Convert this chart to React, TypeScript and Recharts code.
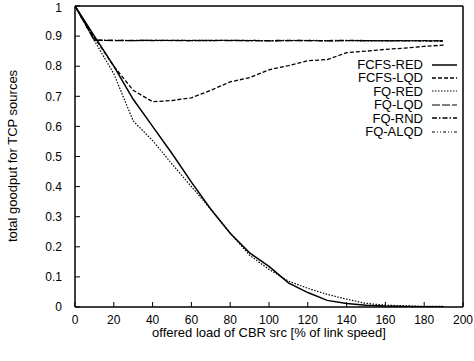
import { LineChart, Line, XAxis, YAxis, Legend } from 'recharts';

const loads = [0, 10, 20, 30, 40, 50, 60, 70, 80, 90, 100, 110, 120, 130, 140, 150, 160, 170, 180, 190];

const fcfsRed = [1, 0.9, 0.8, 0.69, 0.6, 0.51, 0.415, 0.325, 0.245, 0.18, 0.135, 0.08, 0.048, 0.022, 0.012, 0.006, 0.003, 0.002, 0.001, 0.001];
const fcfsLqd = [1, 0.895, 0.8, 0.72, 0.682, 0.686, 0.695, 0.72, 0.748, 0.762, 0.788, 0.802, 0.818, 0.822, 0.845, 0.85, 0.856, 0.86, 0.866, 0.87];
const fqRed = [1, 0.885, 0.775, 0.618, 0.553, 0.475, 0.4, 0.325, 0.245, 0.172, 0.125, 0.086, 0.062, 0.042, 0.026, 0.012, 0.006, 0.004, 0.002, 0.002];
const fqLqd = [1, 0.886, 0.885, 0.885, 0.886, 0.885, 0.885, 0.886, 0.885, 0.885, 0.884, 0.885, 0.885, 0.884, 0.885, 0.885, 0.884, 0.885, 0.884, 0.884];
const fqRnd = [1, 0.887, 0.886, 0.886, 0.885, 0.886, 0.886, 0.885, 0.886, 0.885, 0.885, 0.886, 0.885, 0.885, 0.886, 0.885, 0.885, 0.884, 0.885, 0.885];
const fqAlqd = [1, 0.886, 0.886, 0.885, 0.886, 0.886, 0.885, 0.885, 0.886, 0.886, 0.885, 0.885, 0.886, 0.885, 0.885, 0.884, 0.885, 0.885, 0.884, 0.883];

const xTicks = [0, 20, 40, 60, 80, 100, 120, 140, 160, 180, 200];
const yTicks = [0, 0.1, 0.2, 0.3, 0.4, 0.5, 0.6, 0.7, 0.8, 0.9, 1];

const series = [
  { key: 'fcfsRed', name: 'FCFS-RED', values: fcfsRed, dash: undefined, width: 1.5 },
  { key: 'fcfsLqd', name: 'FCFS-LQD', values: fcfsLqd, dash: '4 2', width: 1.3 },
  { key: 'fqRed', name: 'FQ-RED', values: fqRed, dash: '1.5 1.5', width: 1.2 },
  { key: 'fqLqd', name: 'FQ-LQD', values: fqLqd, dash: '8 2', width: 1.2 },
  { key: 'fqRnd', name: 'FQ-RND', values: fqRnd, dash: '5 2 1.5 2', width: 1.3 },
  { key: 'fqAlqd', name: 'FQ-ALQD', values: fqAlqd, dash: '3 2 1 2 1 2', width: 1.2 },
];

const data = loads.map((x, i) => {
  const row: Record<string, number> = { x };
  series.forEach(s => { row[s.key] = s.values[i]; });
  return row;
});

const font = 'Liberation Sans, Arial, sans-serif';
const tickStyle = { fontSize: 12, fontFamily: font, fill: '#000' };
const frame = { stroke: '#000', strokeWidth: 1.5 };

const LegendBox = () => (
  <div style={{ fontFamily: font, fontSize: 13, color: '#000' }}>
    {series.map(s => (
      <div key={s.key} style={{ display: 'flex', alignItems: 'center', justifyContent: 'flex-end', height: 13.4 }}>
        <span style={{ lineHeight: '13.4px' }}>{s.name}</span>
        <svg width={25} height={6} style={{ marginLeft: 9 }}>
          <line x1={0} y1={3} x2={25} y2={3} stroke="#000" strokeWidth={s.width} strokeDasharray={s.dash} />
        </svg>
      </div>
    ))}
  </div>
);

export default function App() {
  return (
    <div style={{ position: 'absolute', left: 0, top: 0, background: '#fff' }}>
      <LineChart width={474} height={361} data={data} margin={{ top: 5, right: 10, left: 0, bottom: 0 }}>
        <XAxis
          dataKey="x"
          type="number"
          domain={[0, 200]}
          ticks={xTicks}
          allowDataOverflow
          height={54}
          tick={tickStyle}
          tickSize={-5}
          tickMargin={13}
          axisLine={frame}
          tickLine={{ stroke: '#000' }}
          label={() => (
            <text x={269} y={337} textAnchor="middle" fontFamily={font} fontSize={13} fill="#000">
              offered load of CBR src [% of link speed]
            </text>
          )}
        />
        <XAxis
          xAxisId="top"
          orientation="top"
          type="number"
          domain={[0, 200]}
          ticks={xTicks}
          allowDataOverflow
          height={1}
          tick={false}
          tickSize={-5}
          axisLine={frame}
          tickLine={{ stroke: '#000' }}
        />
        <YAxis
          type="number"
          domain={[0, 1]}
          ticks={yTicks}
          allowDataOverflow
          width={75}
          tick={tickStyle}
          tickSize={-5}
          tickMargin={18}
          axisLine={frame}
          tickLine={{ stroke: '#000' }}
          label={() => (
            <text x={12} y={156} transform="rotate(-90 12 156)" textAnchor="middle" dominantBaseline="central" fontFamily={font} fontSize={13} fill="#000">
              total goodput for TCP sources
            </text>
          )}
        />
        <YAxis
          yAxisId="right"
          orientation="right"
          type="number"
          domain={[0, 1]}
          ticks={yTicks}
          allowDataOverflow
          width={1}
          tick={false}
          tickSize={-5}
          axisLine={frame}
          tickLine={{ stroke: '#000' }}
        />
        <Legend
          layout="horizontal"
          verticalAlign="middle"
          content={<LegendBox />}
          wrapperStyle={{ top: 58, right: 17, left: 'auto', width: 'auto' }}
        />
        {series.map(s => (
          <Line
            key={s.key}
            dataKey={s.key}
            name={s.name}
            type="linear"
            stroke="#000"
            strokeWidth={s.width}
            strokeDasharray={s.dash}
            dot={false}
            isAnimationActive={false}
          />
        ))}
      </LineChart>
    </div>
  );
}
